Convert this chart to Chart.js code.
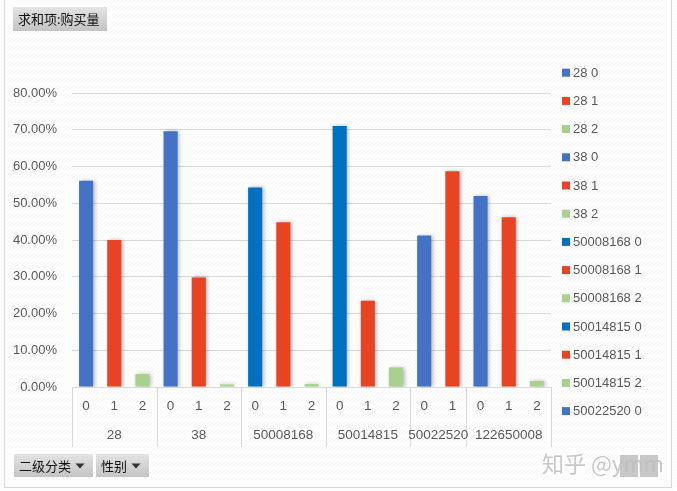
<!DOCTYPE html>
<html>
<head>
<meta charset="utf-8">
<script src="https://cdn.jsdelivr.net/npm/chart.js@4/dist/chart.umd.min.js"></script>
<style>
html,body{margin:0;padding:0;background:#fff;}
#wrap{position:relative;width:677px;height:491px;}
</style>
</head>
<body>
<div id="wrap"><canvas id="c" width="677" height="491"></canvas></div>
<script>
// ---- data ----
const groupLabels = ['28', '38', '50008168', '50014815', '50022520', '122650008'];
const groupSizes  = [3, 3, 3, 3, 2, 3];
const subLabels   = ['0','1','2', '0','1','2', '0','1','2', '0','1','2', '0','1', '0','1','2'];
const values      = [0.561, 0.400, 0.035, 0.696, 0.298, 0.007, 0.543, 0.448, 0.008,
                     0.710, 0.235, 0.053, 0.412, 0.587, 0.520, 0.462, 0.016];
const legendCount = 13;
const yTicks = [0, 0.1, 0.2, 0.3, 0.4, 0.5, 0.6, 0.7, 0.8];

// ---- styles ----
const FONT = '"Liberation Sans", Arial, sans-serif';
const CJK = '"Noto Sans CJK SC", sans-serif';
const TXT = '#595959';
const GRID = '#D9D9D9';
const colBlue = '#4472C4', colDark = '#0070C0', colRed = '#E84424', colGreen = '#A9D18E';
const darkGroups = ['50008168', '50014815'];

// per-bar group name
const barGroup = [];
groupLabels.forEach((g, i) => { for (let k = 0; k < groupSizes[i]; k++) barGroup.push(g); });
const barColors = subLabels.map((s, i) => s === '0' ? (darkGroups.includes(barGroup[i]) ? colDark : colBlue) : (s === '1' ? colRed : colGreen));
const legendLabels = subLabels.slice(0, legendCount).map((s, i) => barGroup[i] + ' ' + s);

const bgPlugin = {
  id: 'bg',
  beforeDraw(chart) {
    const ctx = chart.ctx;
    ctx.save();
    ctx.fillStyle = '#fff';
    ctx.fillRect(0, 0, chart.width, chart.height);
    // faint hatch
    ctx.strokeStyle = 'rgba(0,0,0,0.022)';
    ctx.lineWidth = 1;
    for (let x = -500; x < 700; x += 4) {
      ctx.beginPath(); ctx.moveTo(x, 491); ctx.lineTo(x + 491, 0); ctx.stroke();
    }
    // chart border
    ctx.strokeStyle = GRID;
    ctx.strokeRect(4.5, -1, 667, 488.5);
    ctx.restore();
  }
};

const shadowPlugin = {
  id: 'shadow',
  beforeDatasetsDraw(chart) {
    const ctx = chart.ctx;
    ctx.save();
    ctx.shadowColor = 'rgba(0,0,0,0.28)';
    ctx.shadowBlur = 4;
    ctx.shadowOffsetX = 1.5;
    ctx.shadowOffsetY = 0;
  },
  afterDatasetsDraw(chart) { chart.ctx.restore(); }
};

function button(ctx, x, y, w, h, text, arrow) {
  const g = ctx.createLinearGradient(0, y, 0, y + h);
  g.addColorStop(0, '#E3E3E3');
  g.addColorStop(1, '#C4C4C4');
  ctx.fillStyle = g;
  ctx.fillRect(x, y, w, h);
  ctx.fillStyle = '#111';
  ctx.font = '13px ' + CJK;
  ctx.textAlign = 'left';
  ctx.textBaseline = 'middle';
  ctx.fillText(text, x + 5, y + h / 2 + 0.5);
  if (arrow) {
    const ax = x + w - 13, ay = y + h / 2 - 2;
    ctx.fillStyle = '#333';
    ctx.beginPath(); ctx.moveTo(ax - 4.5, ay); ctx.lineTo(ax + 4.5, ay); ctx.lineTo(ax, ay + 5); ctx.closePath(); ctx.fill();
  }
}

const decoPlugin = {
  id: 'deco',
  afterDraw(chart) {
    const ctx = chart.ctx;
    const xs = chart.scales.x;
    const area = chart.chartArea;
    const half = (xs.getPixelForValue(1) - xs.getPixelForValue(0)) / 2;
    ctx.save();
    // multi-level axis
    ctx.strokeStyle = GRID;
    ctx.lineWidth = 1;
    const top = area.bottom, bot = area.bottom + 60;
    let idx = 0;
    ctx.font = '13.5px ' + FONT;
    ctx.fillStyle = TXT;
    ctx.textAlign = 'center';
    ctx.textBaseline = 'middle';
    groupLabels.forEach((g, i) => {
      const left = xs.getPixelForValue(idx) - half;
      const right = xs.getPixelForValue(idx + groupSizes[i] - 1) + half;
      if (i === 0) { ctx.beginPath(); ctx.moveTo(Math.round(left) + 0.5, top); ctx.lineTo(Math.round(left) + 0.5, bot); ctx.stroke(); }
      ctx.beginPath(); ctx.moveTo(Math.round(right) + 0.5, top); ctx.lineTo(Math.round(right) + 0.5, bot); ctx.stroke();
      ctx.fillText(g, (left + right) / 2, area.bottom + 48);
      idx += groupSizes[i];
    });
    // legend
    ctx.font = '13px ' + FONT;
    ctx.textAlign = 'left';
    legendLabels.forEach((l, i) => {
      const cy = 72.7 + i * 28.2;
      ctx.fillStyle = barColors[i];
      ctx.fillRect(562, cy - 4, 8, 8);
      ctx.fillStyle = TXT;
      ctx.fillText(l, 573, cy + 0.5);
    });
    // buttons
    button(ctx, 13, 7, 94, 24, '求和项:购买量', false);
    button(ctx, 14, 454, 79, 23, '二级分类', true);
    button(ctx, 96, 454, 53, 23, '性别', true);
    ctx.fillStyle = '#C8C8C8';
    ctx.fillRect(620, 455, 18, 22);
    ctx.fillRect(640, 455, 18, 22);
    // watermark
    ctx.fillStyle = 'rgba(190,190,190,0.85)';
    ctx.font = '22px ' + CJK;
    ctx.textAlign = 'left';
    ctx.fillText('知乎 @ymm', 542, 464);
    ctx.restore();
  }
};

new Chart(document.getElementById('c'), {
  type: 'bar',
  data: {
    labels: subLabels,
    datasets: [{
      data: values,
      backgroundColor: barColors,
      borderWidth: 0,
      barPercentage: 0.5,
      categoryPercentage: 1.0
    }]
  },
  options: {
    responsive: false,
    animation: false,
    events: [],
    layout: { padding: { top: 93, right: 126, bottom: 44, left: 0 } },
    plugins: { legend: { display: false }, tooltip: { enabled: false } },
    scales: {
      x: {
        grid: { display: false, drawTicks: false },
        border: { display: true, color: GRID },
        ticks: { color: TXT, font: { family: FONT, size: 13.5 }, padding: 11, maxRotation: 0, autoSkip: false },
        afterFit(s) { s.height = 60; }
      },
      y: {
        min: 0, max: 0.8,
        afterBuildTicks(s) { s.ticks = yTicks.map(v => ({ value: v })); },
        grid: { color: GRID, drawTicks: false },
        border: { display: false },
        ticks: { color: TXT, font: { family: FONT, size: 13 }, padding: 15, callback: v => (v * 100).toFixed(2) + '%' },
        afterFit(s) { s.width = 72; }
      }
    }
  },
  plugins: [bgPlugin, shadowPlugin, decoPlugin]
});
</script>
</body>
</html>
